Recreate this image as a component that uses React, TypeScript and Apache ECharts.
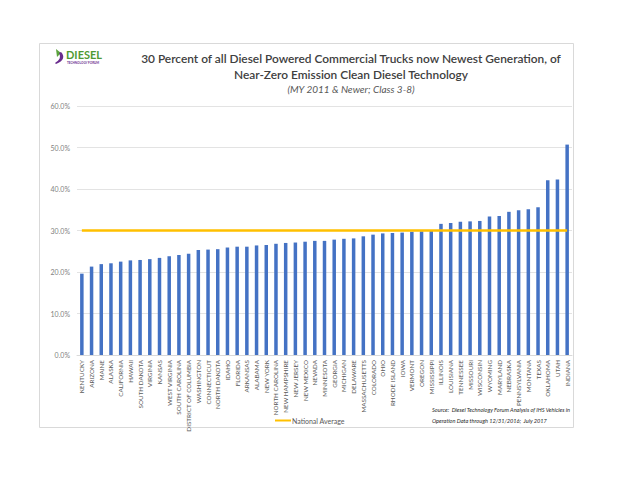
import React, { useEffect, useRef } from "react";
import * as echarts from "echarts";

const states = [
  "KENTUCKY", "ARIZONA", "MAINE", "ALASKA", "CALIFORNIA", "HAWAII", "SOUTH DAKOTA",
  "VIRGINIA", "KANSAS", "WEST VIRGINIA", "SOUTH CAROLINA", "DISTRICT OF COLUMBIA",
  "WASHINGTON", "CONNECTICUT", "NORTH DAKOTA", "IDAHO", "FLORIDA", "ARKANSAS",
  "ALABAMA", "NEW YORK", "NORTH CAROLINA", "NEW HAMPSHIRE", "NEW JERSEY", "NEW MEXICO",
  "NEVADA", "MINNESOTA", "GEORGIA", "MICHIGAN", "DELAWARE", "MASSACHUSETTS",
  "COLORADO", "OHIO", "RHODE ISLAND", "IOWA", "VERMONT", "OREGON", "MISSISSIPPI",
  "ILLINOIS", "LOUISIANA", "TENNESSEE", "MISSOURI", "WISCONSIN", "WYOMING",
  "MARYLAND", "NEBRASKA", "PENNSYLVANIA", "MONTANA", "TEXAS", "OKLAHOMA", "UTAH",
  "INDIANA",
];

// Share of commercial trucks (MY 2011 & newer, class 3-8), percent
const sharePct = [
  19.6, 21.3, 21.9, 22.1, 22.5, 22.8, 22.9, 23.1, 23.4, 23.8, 24.1, 24.4,
  25.3, 25.4, 25.5, 25.9, 26.1, 26.1, 26.4, 26.5, 26.8, 27.0, 27.1, 27.3,
  27.5, 27.5, 27.8, 28.0, 28.1, 28.6, 29.0, 29.3, 29.4, 29.5, 29.7, 29.8,
  30.0, 31.6, 31.8, 32.1, 32.2, 32.3, 33.4, 33.5, 34.5, 34.9, 35.1, 35.6,
  42.1, 42.3, 50.7,
];

const nationalAverage = 30.0;

const yTicks = { min: 0, max: 60, interval: 10 };

const titleLines = [
  "30 Percent of all Diesel Powered Commercial Trucks now Newest Generation, of",
  "Near-Zero Emission Clean Diesel Technology",
];
const subtitle = "(MY 2011 & Newer; Class 3-8)";
const sourceLines = [
  "Source:  Diesel Technology Forum Analysis of IHS Vehicles in",
  "Operation Data through 12/31/2016;  July 2017",
];

echarts.graphic.registerShape(
  "dtfSwoosh",
  echarts.graphic.extendPath("M6 4 C10 8 9 13 1 16 L0 15 C5 12 6 9 4 5 Z", {})
);

export default function App() {
  const ref = useRef<HTMLDivElement>(null);

  useEffect(() => {
    if (!ref.current) return;
    const chart = echarts.init(ref.current, undefined, { renderer: "svg" });
    const font = "Lato, 'Open Sans', sans-serif";
    chart.setOption({
      animation: false,
      backgroundColor: "#ffffff",
      textStyle: { fontFamily: font },
      grid: { left: 77, right: 49, top: 106, bottom: 125, containLabel: false },
      xAxis: {
        type: "category",
        data: states,
        axisLine: { lineStyle: { color: "#d9d9d9" } },
        axisTick: { show: false },
        axisLabel: {
          interval: 0,
          rotate: 90,
          fontSize: 6.3,
          color: "#595959",
          margin: 5,
          fontFamily: font,
        },
      },
      yAxis: {
        type: "value",
        min: yTicks.min,
        max: yTicks.max,
        interval: yTicks.interval,
        axisLine: { show: false },
        axisTick: { show: false },
        splitLine: { lineStyle: { color: "#e3e3e3", width: 1 } },
        axisLabel: {
          fontSize: 7,
          color: "#7f7f7f",
          margin: 7,
          formatter: (v: number) => `${v.toFixed(1)}%`,
        },
      },
      legend: {
        data: ["National Average"],
        left: 270,
        top: 412,
        itemWidth: 16,
        itemHeight: 2,
        itemGap: 4,
        icon: "rect",
        textStyle: { fontSize: 7, color: "#595959", padding: [0, 0, 0, -4] },
      },
      series: [
        {
          name: "Share",
          type: "bar",
          data: sharePct,
          barWidth: 3.5,
          itemStyle: { color: "#4472c4" },
        },
        {
          name: "National Average",
          type: "line",
          data: states.map(() => nationalAverage),
          symbol: "none",
          lineStyle: { color: "#ffc000", width: 2.5 },
          itemStyle: { color: "#ffc000" },
          z: 3,
        },
      ],
      graphic: [
        {
          type: "rect",
          shape: { x: 39.5, y: 43.5, width: 534, height: 384 },
          style: { fill: "none", stroke: "#d9d9d9", lineWidth: 1 },
          z: -10,
          silent: true,
        },
        {
          type: "text",
          style: {
            x: 351,
            y: 52,
            text: titleLines[0],
            font: `600 11.9px ${font}`,
            fill: "#404040",
            align: "center",
          },
        },
        {
          type: "text",
          style: {
            x: 351,
            y: 68,
            text: titleLines[1],
            font: `600 11.9px ${font}`,
            fill: "#404040",
            align: "center",
          },
        },
        {
          type: "text",
          style: {
            x: 351,
            y: 84,
            text: subtitle,
            font: `italic 10px ${font}`,
            fill: "#595959",
            align: "center",
          },
        },
        {
          type: "text",
          x: 432,
          y: 404,
          style: {
            text: sourceLines.join("\n"),
            fontSize: 5.6,
            fontStyle: "italic",
            fontFamily: font,
            lineHeight: 11,
            fill: "#262626",
            align: "left",
          },
        },
        // logo
        {
          type: "polygon",
          shape: { points: [[56, 49], [61, 53], [57, 57]] },
          style: { fill: "#5aa33c" },
        },
        {
          type: "dtfSwoosh",
          x: 55,
          y: 48,
          scaleX: 1,
          scaleY: 1,
          style: { fill: "#6a2c8e" },
        } as any,
        {
          type: "text",
          style: {
            x: 66,
            y: 49,
            text: "DIESEL",
            font: `bold 11px ${font}`,
            fill: "#4f9a34",
          },
        },
        {
          type: "text",
          style: {
            x: 67,
            y: 61,
            text: "TECHNOLOGY FORUM",
            font: `bold 3px ${font}`,
            fill: "#6a2c8e",
          },
        },
      ],
    });
    return () => chart.dispose();
  }, []);

  return (
    <div
      ref={ref}
      style={{ position: "fixed", left: 0, top: 0, width: 621, height: 480 }}
    />
  );
}
